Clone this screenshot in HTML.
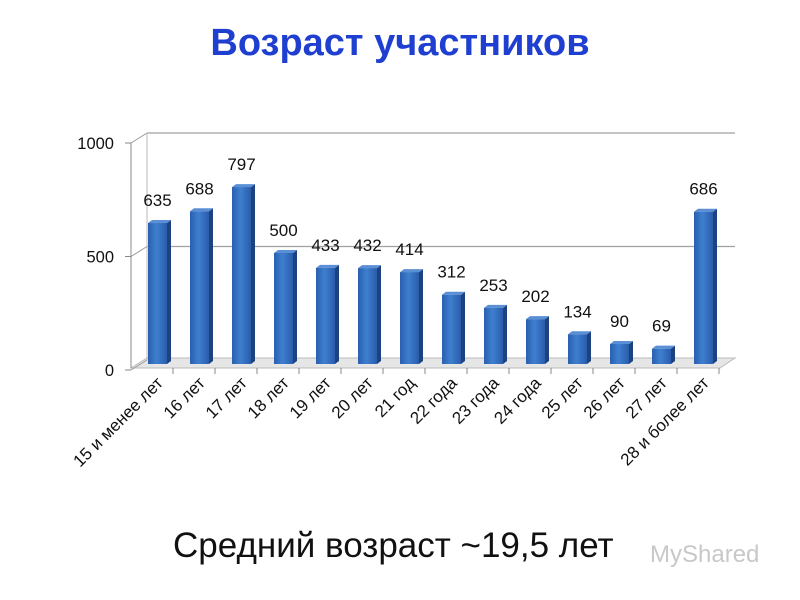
<!DOCTYPE html>
<html><head><meta charset="utf-8"><style>
body{margin:0;width:800px;height:600px;background:#fff;overflow:hidden;font-family:"Liberation Sans","DejaVu Sans",sans-serif}
svg{position:absolute;left:0;top:0}
</style></head><body>
<svg width="800" height="600">
<defs>
<linearGradient id="bf" x1="0" x2="1"><stop offset="0" stop-color="#2a5fae"/><stop offset="0.45" stop-color="#3f7fd0"/><stop offset="1" stop-color="#2a5cab"/></linearGradient>
</defs>
<text x="400" y="55" text-anchor="middle" font-size="38" font-weight="bold" fill="#1f3fd0">Возраст участников</text>
<g id="axes"></g>
<g id="bars"></g>
<text x="173" y="557" font-size="35" fill="#111">Средний возраст ~19,5 лет</text>
<text x="650" y="562" font-size="24" fill="#c8c8c8">MyShared</text>
</svg>
<script>
const categories=["15 и менее лет","16 лет","17 лет","18 лет","19 лет","20 лет","21 год","22 года","23 года","24 года","25 лет","26 лет","27 лет","28 и более лет"];
const values=[635,688,797,500,433,432,414,312,253,202,134,90,69,686];
const yTicks=[0,500,1000];
const NS="http://www.w3.org/2000/svg";
const ax=document.getElementById('axes'),bg=document.getElementById('bars');
const x0=131,slot=42,base=364,k=0.222;
function y(v){return base-v*k}
function backY(v){return 360-v*0.227}
function el(t,a,p){const e=document.createElementNS(NS,t);for(const n in a)e.setAttribute(n,a[n]);p.appendChild(e);return e}
let f=el('polygon',{points:"131,368 720,368 735,358 147,358",fill:"#e6e6e6",stroke:"#bbb"},ax);


yTicks.forEach(v=>{
  const by=backY(v), fy=by+10;
  if(v>0){let g=el('line',{x1:147,x2:735,y1:by,y2:by,stroke:"#a0a0a0","stroke-width":1.3},ax);
  
  }
  el('line',{x1:131,x2:147,y1:fy,y2:by,stroke:"#999"},ax);
  el('line',{x1:125,x2:131,y1:fy,y2:fy,stroke:"#888"},ax);
  let t=el('text',{x:114,y:fy+6,"text-anchor":"end","font-size":16.5,fill:"#111"},ax);t.textContent=v;
  
  
});
el('line',{x1:147,x2:147,y1:backY(1000),y2:360,stroke:"#bbb"},ax);
el('line',{x1:131,x2:131,y1:backY(1000)+10,y2:368,stroke:"#888"},ax);
categories.forEach((c,i)=>{
  const tx=x0+(i+1)*slot;
  el('line',{x1:tx,x2:tx,y1:368,y2:374,stroke:"#888"},ax);
  const cx=x0+(i+0.5)*slot;
  let t=el('text',{x:0,y:0,"text-anchor":"end","font-size":17,fill:"#111",transform:`translate(${cx+12},${384}) rotate(-45)`},ax);
  t.textContent=c;
  
  
});
values.forEach((v,i)=>{
  const l=x0+(i+0.5)*slot-4,w=19,top=y(v),d=4;
  const g=el('g',{},bg);
  
  
  el('polygon',{points:`${l+w},${top} ${l+w+d},${top-3} ${l+w+d},${base-3} ${l+w},${base}`,fill:"#1d4280"},g);
  el('polygon',{points:`${l},${top} ${l+d},${top-3} ${l+w+d},${top-3} ${l+w},${top}`,fill:"#5a8fd6"},g);
  el('rect',{x:l,y:top,width:w,height:base-top,fill:"url(#bf)"},g);
  let t=el('text',{x:l+w/2,y:top-17,"text-anchor":"middle","font-size":17,fill:"#111"},g);
  t.textContent=v;
  
  
});
</script>
</body></html>
